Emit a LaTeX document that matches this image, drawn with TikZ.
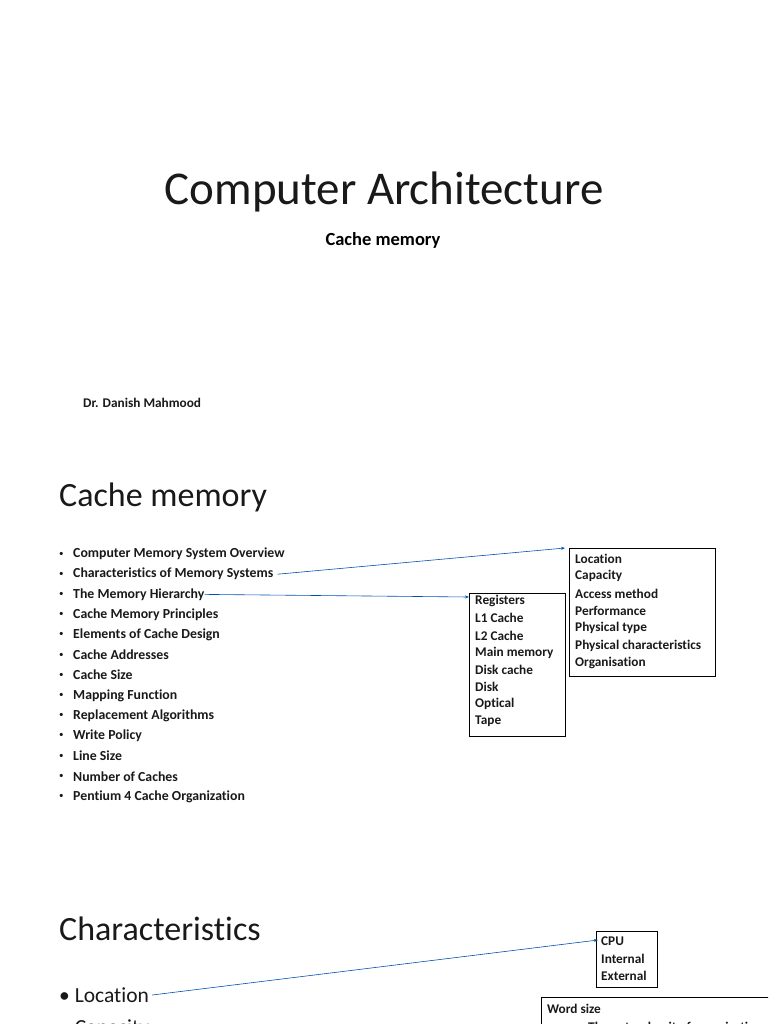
\documentclass[tikz,border=0pt]{standalone}
\usepackage{fontspec}
\usetikzlibrary{arrows.meta}
\setmainfont{Carlito}[Ligatures=NoCommon]
\begin{document}
\begin{tikzpicture}[x=1pt,y=-1pt,
  txt/.style={inner sep=0pt,anchor=west,text=black!90},
  item/.style={txt,font=\bfseries\fontsize{13.8}{15}\selectfont},
  bitem/.style={txt,font=\bfseries\fontsize{13.3}{15}\selectfont},
  blist/.style={draw=black,line width=0.6pt,inner sep=0pt},
  conn/.style={draw=blue!55!cyan!70!black,line width=0.6pt,-{Stealth[length=4pt,width=3pt]}}]
\useasboundingbox (0,0) rectangle (768,1024);
\clip (0,0) rectangle (768,1024);
\node[inner sep=0pt,text=black!90,font=\fontsize{47}{52}\selectfont] (title) at (384,192) {Computer Architecture};
\node[inner sep=0pt,font=\bfseries\fontsize{18.5}{20}\selectfont] (sub) at (383,240) {Cache memory};
\node[bitem] (auth) at (83,403) {Dr. Danish Mahmood};
\node[txt,font=\fontsize{34}{38}\selectfont] (h1) at (59,497) {Cache memory};
\foreach \t [count=\i] in {Computer Memory System Overview,Characteristics of Memory Systems,The Memory Hierarchy,Cache Memory Principles,Elements of Cache Design,Cache Addresses,Cache Size,Mapping Function,Replacement Algorithms,Write Policy,Line Size,Number of Caches,Pentium 4 Cache Organization}{
  \node[item] (b\i) at (73,{554+(\i-1)*20.2}) {\t};
  \node[txt,font=\fontsize{9}{10}\selectfont] (d\i) at (59,{554+(\i-1)*20.2}) {•};
}
\draw[blist] (569,548) rectangle (715,676);
\foreach \t [count=\i] in {Location,Capacity,Access method,Performance,Physical type,Physical characteristics,Organisation}{
  \node[bitem] (c\i) at (575,{559+(\i-1)*17.3}) {\t};
}
\draw[blist] (469,593) rectangle (565,736);
\foreach \t [count=\i] in {Registers,L1 Cache,L2 Cache,Main memory,Disk cache,Disk,Optical,Tape}{
  \node[bitem] (r\i) at (475,{601+(\i-1)*17.2}) {\t};
}
\coordinate (a1) at (565,548);
\coordinate (a2) at (469,597);
\draw[conn] (b2.east)++(4,0) -- (a1);
\draw[conn] (b3.east) -- (a2);
\node[txt,font=\fontsize{34}{38}\selectfont] (h2) at (59,929) {Characteristics};
\node[txt,font=\fontsize{21.5}{24}\selectfont] (loc) at (59,995) {• Location};
\node[txt,font=\fontsize{21.5}{24}\selectfont] (cap) at (59,1029) {• Capacity};
\draw[blist] (596,931) rectangle (657,987);
\foreach \t [count=\i] in {CPU,Internal,External}{
  \node[bitem] (p\i) at (601,{941+(\i-1)*17.5}) {\t};
}
\coordinate (a3) at (598,940);
\draw[conn] (loc.east)++(3,0) -- (a3);
\draw[blist] (541,997) rectangle (800,1100);
\node[bitem] (w1) at (547,1009) {Word size};
\node[bitem] (w2) at (588,1028) {The natural unit of organisation};
\node[txt,font=\fontsize{9}{10}\selectfont] (w2d) at (575,1028) {–};
\end{tikzpicture}
\end{document}
